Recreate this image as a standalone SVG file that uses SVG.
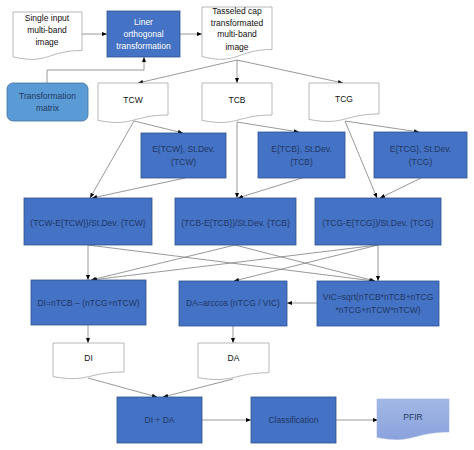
<svg xmlns="http://www.w3.org/2000/svg" width="474" height="450" viewBox="0 0 474 450">
<defs>
<marker id="ah" markerWidth="5" markerHeight="4" refX="5" refY="2" orient="auto" markerUnits="userSpaceOnUse">
<path d="M0,0 L5,2 L0,4 Z" fill="#000"/>
</marker>
<linearGradient id="pg" x1="0" y1="0" x2="0" y2="1">
<stop offset="0" stop-color="#a3b8e6"/>
<stop offset="1" stop-color="#8aa2dc"/>
</linearGradient>
</defs>
<style>
text{font-family:"Liberation Sans",Arial,sans-serif;font-size:8.5px;text-anchor:middle;fill:#1f3864}
.doc{fill:#fff;stroke:#a6a6a6;stroke-width:0.8}
.box{fill:#4472c4;stroke:#2f528f;stroke-width:0.8}
.w{fill:#fff}
.k{fill:#111}
#connectors path{fill:none;stroke:#7f7f7f;stroke-width:0.8;marker-end:url(#ah)}
</style>
<rect width="474" height="450" fill="#fff"/>
<g id="connectors">
<path d="M82,34 H107"/>
<path d="M180,34 H202"/>
<path d="M47,83 V70 H144 V57"/>
<path d="M237,60 L138,83"/>
<path d="M237,60 V83"/>
<path d="M237,60 L343,83"/>
<path d="M134,121 L90,198"/>
<path d="M134,121 L183,133"/>
<path d="M185,178 L92,198"/>
<path d="M237,122 V198"/>
<path d="M237,122 L299,132"/>
<path d="M302,178 L238,198"/>
<path d="M345,121 L377,198"/>
<path d="M345,121 L419,132"/>
<path d="M421,178 L380,198"/>
<path d="M88,245 V280"/>
<path d="M88,245 L374,281"/>
<path d="M235,245 L91,280"/>
<path d="M235,245 L375,281"/>
<path d="M378,245 V281"/>
<path d="M378,245 L92,280"/>
<path d="M378,245 L234,281"/>
<path d="M317,303 H287"/>
<path d="M88,325 V343"/>
<path d="M233,326 V343"/>
<path d="M88,378 L157,397"/>
<path d="M233,379 L163,397"/>
<path d="M202,420 H251"/>
<path d="M336,420 H378"/>
</g>
<g id="single-input">
<path class="doc" d="M13,12 H82 V50.5 C47.5,50.5 47.5,65.2 13,56.8 Z"/>
<text class="k" x="47" y="21">Single input</text>
<text class="k" x="47" y="33">multi-band</text>
<text class="k" x="47" y="45">image</text>
</g>
<g id="liner">
<rect class="box" x="107" y="11" width="73" height="46"/>
<text class="w" x="143.5" y="25">Liner</text>
<text class="w" x="143.5" y="37">orthogonal</text>
<text class="w" x="143.5" y="49">transformation</text>
</g>
<g id="tasseled">
<path class="doc" d="M202,7 H272 V49.5 C237,49.5 237,65.7 202,56.5 Z"/>
<text class="k" x="237" y="14">Tasseled cap</text>
<text class="k" x="237" y="26">transformated</text>
<text class="k" x="237" y="37">multi-band</text>
<text class="k" x="237" y="50">image</text>
</g>
<g id="transformation-matrix">
<rect x="7" y="83" width="81" height="38" rx="6" fill="#5b9bd5" stroke="#41719c" stroke-width="0.8"/>
<text x="47.5" y="99">Transformation</text>
<text x="47.5" y="111">matrix</text>
</g>
<g id="tcw">
<path class="doc" d="M98,83 H168 V115 C133,115 133,127.3 98,120.4 Z"/>
<text class="k" x="133" y="103">TCW</text>
</g>
<g id="tcb">
<path class="doc" d="M202,83 H272 V115 C237,115 237,127.3 202,120.4 Z"/>
<text class="k" x="237" y="103">TCB</text>
</g>
<g id="tcg">
<path class="doc" d="M309,83 H379 V114 C344,114 344,126.3 309,119.4 Z"/>
<text class="k" x="344" y="102">TCG</text>
</g>
<g id="e-tcw">
<rect class="box" x="141" y="133" width="85" height="45"/>
<text x="183.5" y="152">E{TCW}, St.Dev.</text>
<text x="183.5" y="165">(TCW)</text>
</g>
<g id="e-tcb">
<rect class="box" x="258" y="132" width="87" height="46"/>
<text x="301.5" y="152">E{TCB}, St.Dev.</text>
<text x="301.5" y="165">(TCB)</text>
</g>
<g id="e-tcg">
<rect class="box" x="374" y="132" width="93" height="46"/>
<text x="420.5" y="152">E{TCG}, St.Dev.</text>
<text x="420.5" y="165">(TCG)</text>
</g>
<g id="n-tcw">
<rect class="box" x="24" y="198" width="128" height="47"/>
<text x="88" y="226">(TCW-E{TCW})/St.Dev. {TCW}</text>
</g>
<g id="n-tcb">
<rect class="box" x="175" y="198" width="121" height="47"/>
<text x="235.5" y="226">(TCB-E{TCB})/St.Dev. {TCB}</text>
</g>
<g id="n-tcg">
<rect class="box" x="315" y="198" width="126" height="47"/>
<text x="378" y="226">(TCG-E{TCG})/St.Dev. {TCG}</text>
</g>
<g id="di-formula">
<rect class="box" x="31" y="280" width="115" height="45"/>
<text x="88.5" y="306">DI=nTCB – (nTCG+nTCW)</text>
</g>
<g id="da-formula">
<rect class="box" x="179" y="281" width="108" height="45"/>
<text x="233" y="306">DA=arccos (nTCG / VIC)</text>
</g>
<g id="vic">
<rect class="box" x="317" y="281" width="122" height="45"/>
<text x="378" y="300">VIC=sqrt(nTCB*nTCB+nTCG</text>
<text x="378" y="313">*nTCG+nTCW*nTCW)</text>
</g>
<g id="di">
<path class="doc" d="M53,343 H124 V372 C88.5,372 88.5,383 53,376.6 Z"/>
<text class="k" x="88.5" y="361">DI</text>
</g>
<g id="da">
<path class="doc" d="M198,343 H269 V372.7 C233.5,372.7 233.5,384 198,377.6 Z"/>
<text class="k" x="233.5" y="361">DA</text>
</g>
<g id="di-da">
<rect class="box" x="117" y="397" width="85" height="46"/>
<text x="159.5" y="423">DI + DA</text>
</g>
<g id="classification">
<rect class="box" x="251" y="397" width="85" height="46"/>
<text x="293.5" y="423">Classification</text>
</g>
<g id="pfir">
<path d="M377,399 H449 V432 C413,432 413,444.4 377,437.3 Z" fill="url(#pg)" stroke="#9fb3e0" stroke-width="0.6"/>
<text x="413" y="420">PFIR</text>
</g>
</svg>
